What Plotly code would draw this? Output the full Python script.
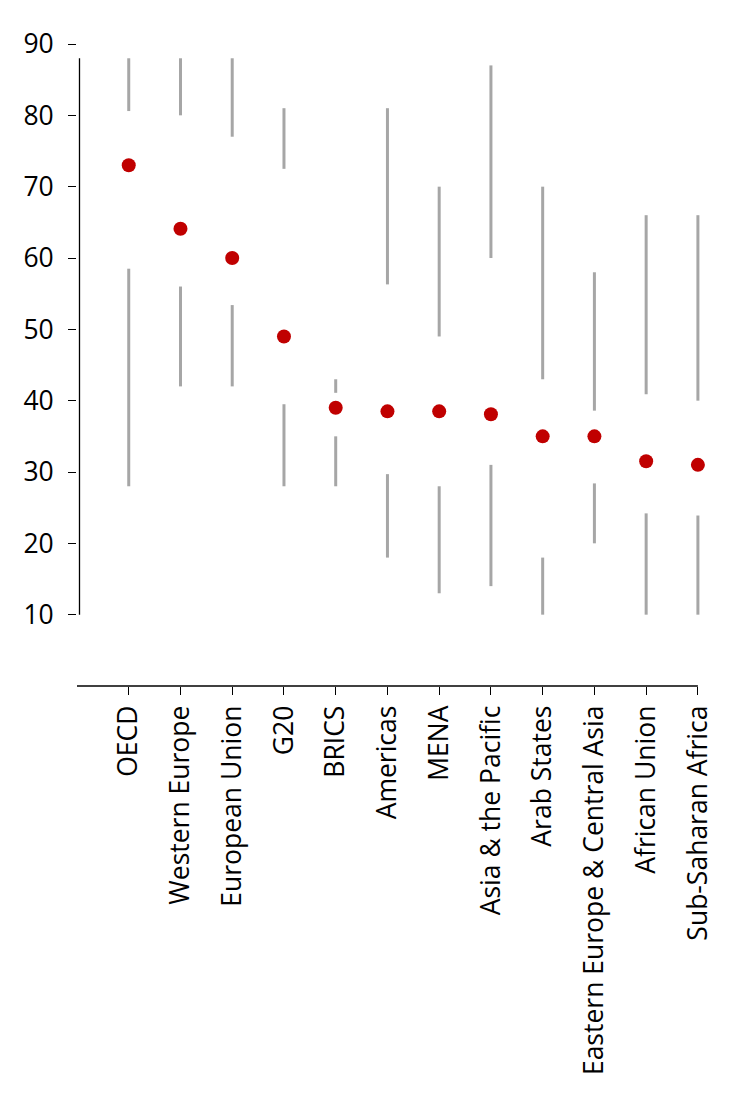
import plotly.graph_objects as go

categories = ["OECD", "Western Europe", "European Union", "G20", "BRICS", "Americas",
              "MENA", "Asia & the Pacific", "Arab States", "Eastern Europe & Central Asia",
              "African Union", "Sub-Saharan Africa"]
max_vals = [88, 88, 88, 81, 43, 81, 70, 87, 70, 58, 66, 66]
upper_vals = [80.6, 80, 77, 72.5, 41.1, 56.3, 49, 60, 43, 38.6, 40.9, 40]
mean_vals = [73, 64.1, 60, 49, 39, 38.5, 38.5, 38.1, 35, 35, 31.5, 31]
lower_vals = [58.5, 56, 53.4, 39.5, 35, 29.7, 28, 31, 18, 28.4, 24.2, 23.9]
min_vals = [28, 42, 42, 28, 28, 18, 13, 14, 10, 20, 10, 10]
y_ticks = [10, 20, 30, 40, 50, 60, 70, 80, 90]

FONT = "Open Sans"
FS = 26.5
idx = list(range(len(categories)))
X0, X1 = -1, 11.06

xs, ys = [], []
for i in idx:
    xs += [i, i, None, i, i, None]
    ys += [upper_vals[i], max_vals[i], None, min_vals[i], lower_vals[i], None]

fig = go.Figure()
fig.add_trace(go.Scatter(x=xs, y=ys, mode="lines",
                         line=dict(color="#A6A6A6", width=3),
                         hoverinfo="skip", showlegend=False, cliponaxis=False))
fig.add_trace(go.Scatter(x=idx, y=mean_vals, mode="markers",
                         marker=dict(color="#C00000", size=14),
                         showlegend=False, cliponaxis=False))

# range-frame y axis line from data min to data max
fig.add_shape(type="line", xref="paper", yref="y", x0=0.004, x1=0.004,
              y0=min(min_vals), y1=max(max_vals),
              line=dict(color="black", width=1.3))
# x axis line from the left edge to the last category
fig.add_shape(type="line", xref="x", yref="paper", x0=X0, x1=idx[-1],
              y0=0, y1=0, line=dict(color="black", width=1.3))

fig.update_layout(
    width=747, height=1109,
    margin=dict(l=77, r=46, t=44, b=423),
    paper_bgcolor="white", plot_bgcolor="white",
    font=dict(family=FONT, size=FS, color="black"),
)
fig.update_xaxes(
    range=[X0, X1], tickmode="array", tickvals=idx, ticktext=categories,
    tickangle=-90, showline=False,
    ticks="outside", ticklen=8, tickcolor="black", tickwidth=1.3,
    showgrid=False, zeroline=False, ticklabelstandoff=0,
    tickfont=dict(family=FONT, size=FS, color="black"),
)
fig.update_yaxes(
    range=[0, 90], tickmode="array", tickvals=y_ticks,
    showline=False, ticks="outside", ticklen=8, tickcolor="black", tickwidth=1.3,
    showgrid=False, zeroline=False, ticklabelstandoff=9,
    tickfont=dict(family=FONT, size=FS, color="black"),
)

fig.write_html("out.html", config={"displayModeBar": False},
               post_script="document.body.style.margin='0';")
